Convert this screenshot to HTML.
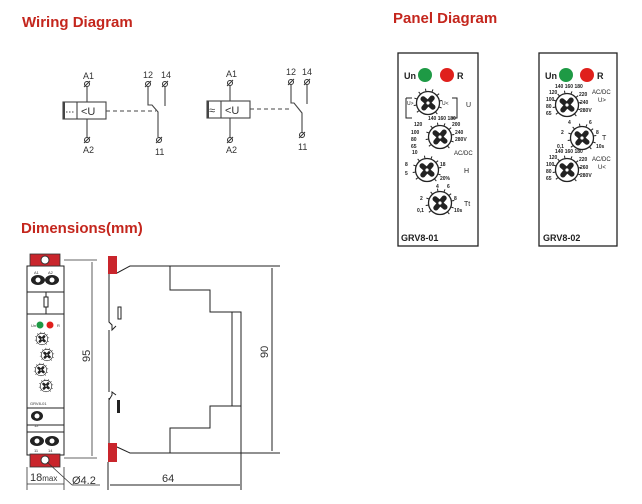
<!DOCTYPE html>
<html><head><meta charset="utf-8"><style>
html,body{margin:0;padding:0;background:#fff;}
svg{display:block;font-family:"Liberation Sans",sans-serif;}
.t{font-family:"Liberation Sans",sans-serif;font-weight:bold;fill:#c4261d;font-size:15px;}
</style></head><body>
<svg width="642" height="504" viewBox="0 0 642 504" xmlns="http://www.w3.org/2000/svg">
<defs>
<g id="dial">
<circle r="11.5" fill="#fff" stroke="#222" stroke-width="1.3"/>
<g fill="#222" transform="rotate(40)">
<rect x="-2.6" y="-9" width="5.2" height="18" rx="2.6"/>
<rect x="-9" y="-2.6" width="18" height="5.2" rx="2.6"/>
</g>
<circle r="1.6" fill="#fff"/>
<g stroke="#222" stroke-width="1">
<line x1="0" y1="-12" x2="0" y2="-14.5" transform="rotate(-130)"/>
<line x1="0" y1="-12" x2="0" y2="-14.5" transform="rotate(-100)"/>
<line x1="0" y1="-12" x2="0" y2="-14.5" transform="rotate(-70)"/>
<line x1="0" y1="-12" x2="0" y2="-14.5" transform="rotate(-40)"/>
<line x1="0" y1="-12" x2="0" y2="-14.5" transform="rotate(-10)"/>
<line x1="0" y1="-12" x2="0" y2="-14.5" transform="rotate(20)"/>
<line x1="0" y1="-12" x2="0" y2="-14.5" transform="rotate(50)"/>
<line x1="0" y1="-12" x2="0" y2="-14.5" transform="rotate(80)"/>
<line x1="0" y1="-12" x2="0" y2="-14.5" transform="rotate(110)"/>
<line x1="0" y1="-12" x2="0" y2="-14.5" transform="rotate(140)"/>
</g>
</g>
<g id="term"><line x1="-3" y1="3" x2="3" y2="-3" stroke="#333" stroke-width="1"/><circle r="2.5" fill="none" stroke="#333" stroke-width="1"/></g>
</defs>

<text class="t" x="22" y="27">Wiring Diagram</text>
<text class="t" x="393" y="23">Panel Diagram</text>
<text class="t" x="21" y="233">Dimensions(mm)</text>

<!-- wiring 1 -->
<g font-size="9" fill="#333" stroke="none">
<text x="83" y="79">A1</text><text x="83" y="153">A2</text>
<text x="143" y="78">12</text><text x="161" y="78">14</text><text x="155" y="155">11</text>
<text x="226" y="77">A1</text><text x="226" y="153">A2</text>
<text x="286" y="75">12</text><text x="302" y="75">14</text><text x="298" y="150">11</text>
</g>
<g stroke="#444" stroke-width="1.1" fill="none">
<use href="#term" x="87" y="84"/><use href="#term" x="87" y="140"/>
<line x1="87" y1="87" x2="87" y2="102"/><line x1="87" y1="119" x2="87" y2="137"/>
<rect x="63" y="102" width="43" height="17"/><line x1="77" y1="102" x2="77" y2="119"/>
<line x1="64" y1="102" x2="64" y2="119" stroke-width="2"/>
<line x1="66" y1="112" x2="75" y2="112" stroke-dasharray="1.5,1.5"/>
<line x1="106" y1="111" x2="156" y2="111" stroke-dasharray="4,3"/>
<use href="#term" x="148" y="84"/><use href="#term" x="165" y="84"/><use href="#term" x="159" y="140"/>
<polyline points="148,87 148,105 152,105 158,112 158,137"/>
<line x1="165" y1="87" x2="165" y2="106"/>

<use href="#term" x="230" y="83"/><use href="#term" x="230" y="140"/>
<line x1="230" y1="86" x2="230" y2="101"/><line x1="230" y1="118" x2="230" y2="137"/>
<rect x="207" y="101" width="43" height="17"/><line x1="221" y1="101" x2="221" y2="118"/>
<line x1="208" y1="101" x2="208" y2="118" stroke-width="2"/>
<line x1="250" y1="109" x2="292" y2="109" stroke-dasharray="4,3"/>
<use href="#term" x="291" y="82"/><use href="#term" x="307" y="82"/><use href="#term" x="302" y="135"/>
<polyline points="291,85 291,103 294,103 302,113 302,132"/>
<line x1="307" y1="85" x2="307" y2="104"/>
</g>
<text x="81" y="115" font-size="11" fill="#333">&lt;U</text>
<text x="225" y="114" font-size="11" fill="#333">&lt;U</text>
<text x="209" y="114" font-size="11" fill="#333">≈</text>

<!-- panel 1 -->
<rect x="398" y="53" width="80" height="193" fill="#fff" stroke="#222" stroke-width="1.3"/>
<text x="404" y="79" font-size="9" font-weight="bold" fill="#222">Un</text>
<circle cx="425" cy="75" r="7" fill="#1e9a45"/><circle cx="447" cy="75" r="7" fill="#e0201c"/>
<text x="457" y="79" font-size="9" font-weight="bold" fill="#222">R</text>
<path d="M406,98 V118 H412 M406,98 H412 M452,98 H457 V118 H451" fill="none" stroke="#222"/>
<text x="407" y="105" font-size="5" fill="#222">U&gt;</text><text x="442" y="105" font-size="5" fill="#222">U&lt;</text>
<use href="#dial" x="428" y="103"/>
<text x="466" y="107" font-size="7" fill="#222">U</text>
<use href="#dial" x="440" y="137"/>
<g font-size="5" font-weight="bold" fill="#222"><text x="414" y="126">120</text><text x="411" y="134">100</text><text x="411" y="141">80</text><text x="411" y="148">65</text><text x="452" y="126">200</text><text x="455" y="134">240</text><text x="455" y="141">280V</text><text x="428" y="120">140 160 180</text></g>
<text x="454" y="155" font-size="6" fill="#222">AC/DC</text>
<use href="#dial" x="427" y="170"/>
<g font-size="5" font-weight="bold" fill="#222"><text x="405" y="166">8</text><text x="405" y="175">5</text><text x="412" y="154">10</text><text x="440" y="166">18</text><text x="440" y="180">20%</text></g>
<text x="464" y="173" font-size="7" fill="#222">H</text>
<use href="#dial" x="440" y="203"/>
<g font-size="5" font-weight="bold" fill="#222"><text x="420" y="200">2</text><text x="417" y="212">0,1</text><text x="436" y="188">4</text><text x="447" y="188">6</text><text x="454" y="200">8</text><text x="454" y="212">10s</text></g>
<text x="464" y="206" font-size="7" fill="#222">Tt</text>
<text x="401" y="241" font-size="9" font-weight="bold" fill="#222">GRV8-01</text>

<!-- panel 2 -->
<rect x="539" y="53" width="78" height="193" fill="#fff" stroke="#222" stroke-width="1.3"/>
<text x="545" y="79" font-size="9" font-weight="bold" fill="#222">Un</text>
<circle cx="566" cy="75" r="7" fill="#1e9a45"/><circle cx="587" cy="75" r="7" fill="#e0201c"/>
<text x="597" y="79" font-size="9" font-weight="bold" fill="#222">R</text>
<use href="#dial" x="567" y="105"/>
<g font-size="5" font-weight="bold" fill="#222"><text x="549" y="94">120</text><text x="546" y="101">100</text><text x="546" y="108">80</text><text x="546" y="115">65</text><text x="579" y="96">220</text><text x="580" y="104">240</text><text x="580" y="112">280V</text><text x="555" y="88">140 160 180</text></g>
<text x="592" y="94" font-size="6" fill="#222">AC/DC</text><text x="598" y="102" font-size="6" fill="#222">U&gt;</text>
<use href="#dial" x="582" y="138"/>
<g font-size="5" font-weight="bold" fill="#222"><text x="561" y="134">2</text><text x="557" y="148">0,1</text><text x="568" y="124">4</text><text x="589" y="124">6</text><text x="596" y="134">8</text><text x="596" y="148">10s</text></g>
<text x="602" y="140" font-size="7" fill="#222">T</text>
<use href="#dial" x="567" y="170"/>
<g font-size="5" font-weight="bold" fill="#222"><text x="549" y="159">120</text><text x="546" y="166">100</text><text x="546" y="173">80</text><text x="546" y="180">65</text><text x="579" y="161">220</text><text x="580" y="169">260</text><text x="580" y="177">280V</text><text x="555" y="153">140 160 180</text></g>
<text x="592" y="161" font-size="6" fill="#222">AC/DC</text><text x="598" y="169" font-size="6" fill="#222">U&lt;</text>
<text x="543" y="241" font-size="9" font-weight="bold" fill="#222">GRV8-02</text>

<!-- front module -->
<g stroke="#222" stroke-width="1" fill="none">
<rect x="27" y="266" width="37" height="189" fill="#fff"/>
<line x1="27" y1="292" x2="64" y2="292"/><line x1="27" y1="314" x2="64" y2="314"/>
<line x1="27" y1="408" x2="64" y2="408"/><line x1="27" y1="425" x2="64" y2="425"/><line x1="27" y1="432" x2="64" y2="432"/>
<rect x="44" y="297" width="4" height="10"/>
<line x1="46" y1="292" x2="46" y2="297"/><line x1="46" y1="307" x2="46" y2="314"/>
</g>
<rect x="30" y="254" width="30" height="12" fill="#c9252c" stroke="#333" stroke-width="0.8"/>
<rect x="30" y="454" width="30" height="13" fill="#c9252c" stroke="#333" stroke-width="0.8"/>
<circle cx="45" cy="260" r="4" fill="#fff" stroke="#333"/><circle cx="45" cy="460" r="4" fill="#fff" stroke="#333"/>
<g fill="#222">
<ellipse cx="38" cy="280" rx="7" ry="5"/><ellipse cx="52" cy="280" rx="7" ry="5"/>
<ellipse cx="37" cy="416" rx="6" ry="5"/>
<ellipse cx="37" cy="441" rx="7" ry="5"/><ellipse cx="52" cy="441" rx="7" ry="5"/>
</g>
<g fill="#fff"><circle cx="38" cy="280" r="2.5"/><circle cx="52" cy="280" r="2.5"/><circle cx="37" cy="416" r="2.5"/><circle cx="37" cy="441" r="2.5"/><circle cx="52" cy="441" r="2.5"/></g>
<g font-size="4" fill="#333"><text x="34" y="274">A1</text><text x="48" y="274">A2</text><text x="34" y="427">12</text><text x="34" y="452">11</text><text x="48" y="452">14</text><text x="30" y="405">GRV8-01</text><text x="31" y="327">Un</text><text x="57" y="327">R</text></g>
<circle cx="40" cy="325" r="3.5" fill="#1e9a45"/><circle cx="50" cy="325" r="3.5" fill="#e0201c"/>
<use href="#dial" transform="translate(42,339) scale(0.5)"/>
<use href="#dial" transform="translate(47,355) scale(0.5)"/>
<use href="#dial" transform="translate(41,370) scale(0.5)"/>
<use href="#dial" transform="translate(46,386) scale(0.5)"/>

<!-- dims front -->
<g stroke="#333" stroke-width="0.8" fill="none">
<line x1="64" y1="260" x2="97" y2="260"/><line x1="64" y1="458" x2="97" y2="458"/>
<line x1="92" y1="262" x2="92" y2="456"/>
<line x1="27" y1="467" x2="27" y2="490"/><line x1="64" y1="467" x2="64" y2="490"/>
<line x1="27" y1="484" x2="64" y2="484"/>
<line x1="47" y1="462" x2="72" y2="485"/><line x1="72" y1="485" x2="100" y2="485"/>
</g>
<text transform="translate(90,362) rotate(-90)" font-size="11" fill="#333">95</text>
<text x="30" y="481" font-size="11" fill="#333">18<tspan font-size="8">max</tspan></text>
<text x="72" y="484" font-size="11" fill="#333">Ø4.2</text>

<!-- side view -->
<g stroke="#222" stroke-width="1" fill="none">
<path d="M117,273 L130,266 H170 V290 H210 V312 H241 V406 H210 V428 H170 V453 H130 L117,447"/>
<line x1="232" y1="312" x2="232" y2="406"/>
<path d="M109,274 V322 L112,325 V330 L116,326 M109,330 V392 M109,400 L112,395 V392 L116,395 M109,398 V443"/>
<rect x="118" y="307" width="3" height="12"/>
<line x1="170" y1="266" x2="280" y2="266"/><line x1="170" y1="453" x2="280" y2="453"/>
<line x1="272" y1="268" x2="272" y2="451"/>
<line x1="241" y1="406" x2="241" y2="490"/><line x1="108" y1="462" x2="108" y2="490"/>
<line x1="110" y1="485" x2="240" y2="485"/>
</g>
<rect x="117" y="400" width="3" height="13" fill="#222"/>
<rect x="108" y="256" width="9" height="18" fill="#c9252c"/>
<rect x="108" y="443" width="9" height="19" fill="#c9252c"/>
<text transform="translate(268,358) rotate(-90)" font-size="11" fill="#333">90</text>
<text x="162" y="482" font-size="11" fill="#333">64</text>
</svg>
</body></html>
